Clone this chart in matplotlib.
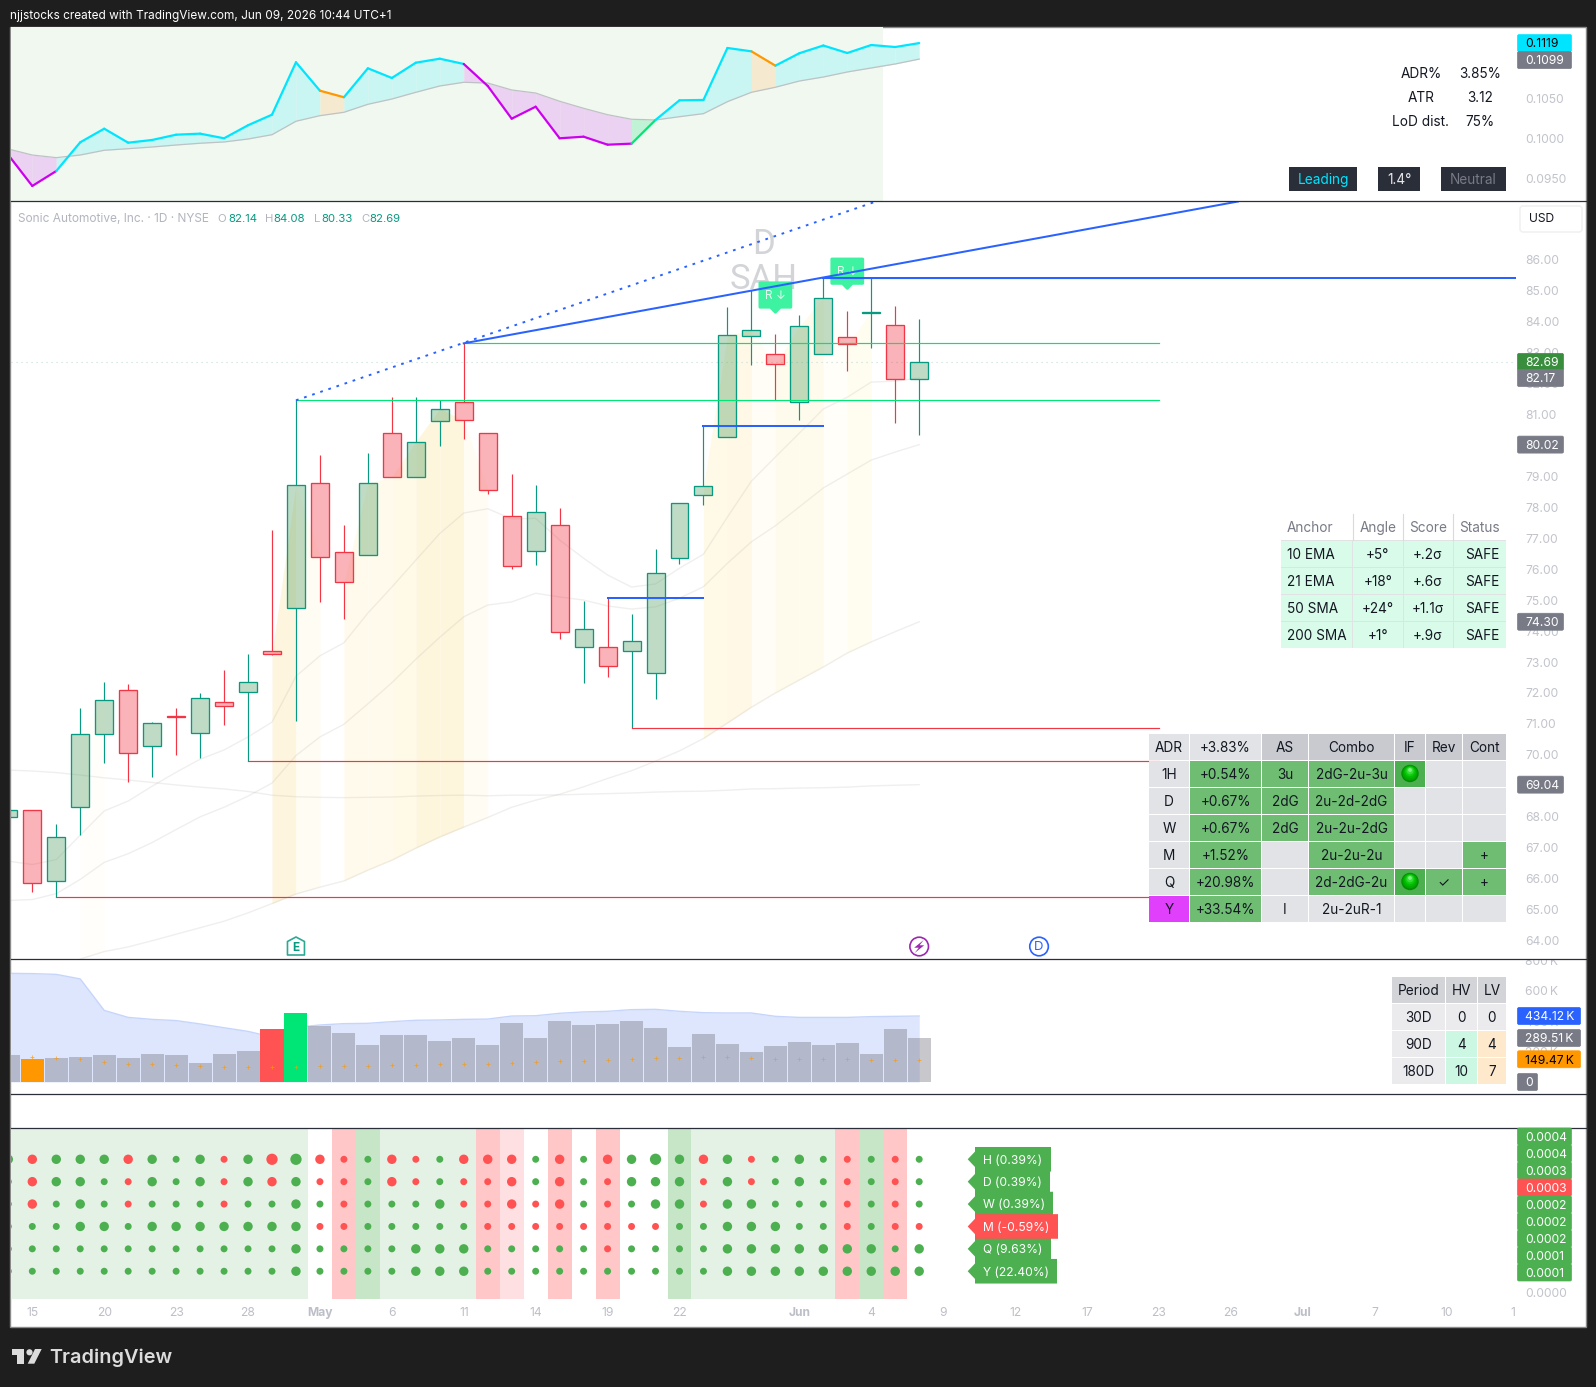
import matplotlib
matplotlib.use("Agg")
import matplotlib.pyplot as plt
from matplotlib.patches import Rectangle, Polygon, Circle, FancyBboxPatch

plt.rcParams["font.family"] = ["Inter", "DejaVu Sans"]

# ---- daily bars, first entry is the bar cut off at the left edge ----
bars = list(range(-1, 38))
opens = [67.98, 68.21, 65.92, 68.31, 70.69, 72.08, 70.30, 71.25, 70.72, 71.72, 72.02, 73.37, 74.73,
         78.77, 76.54, 76.44, 80.41, 78.98, 80.77, 81.41, 80.41, 77.73, 76.60, 77.41, 73.47, 73.50,
         73.37, 72.66, 76.35, 78.38, 80.25, 83.53, 82.96, 81.41, 82.93, 83.51, 84.27, 83.87, 82.14]
highs = [68.30, 68.21, 67.77, 71.51, 72.35, 72.28, 71.05, 71.51, 72.00, 72.74, 73.25, 77.25, 81.45,
         79.68, 77.42, 79.75, 81.55, 81.55, 81.45, 83.29, 80.41, 79.07, 78.71, 77.97, 74.97, 75.09,
         74.55, 76.65, 78.15, 80.63, 84.46, 85.01, 83.59, 84.20, 85.39, 84.33, 85.39, 84.49, 84.08]
lows = [67.90, 65.58, 65.40, 67.42, 69.75, 69.13, 69.30, 70.00, 69.91, 70.97, 69.80, 73.24, 71.10,
        74.95, 74.40, 76.44, 78.98, 78.98, 79.99, 80.20, 78.43, 76.01, 76.14, 73.75, 72.33, 72.52,
        70.86, 71.81, 76.18, 78.08, 80.25, 82.60, 81.46, 80.81, 82.93, 82.40, 83.15, 80.72, 80.33]
closes = [68.21, 65.88, 67.36, 70.69, 71.76, 70.05, 71.02, 71.23, 71.83, 71.57, 72.37, 73.27, 78.73,
          76.40, 75.57, 78.77, 78.98, 80.12, 81.18, 80.80, 78.57, 76.09, 77.83, 73.96, 74.05, 72.86,
          73.67, 75.89, 78.15, 78.67, 83.55, 83.71, 82.61, 83.84, 84.77, 83.26, 84.29, 82.13, 82.69]

# ---- moving averages ----
ema10 = [66.57, 66.46, 66.62, 67.41, 68.19, 68.51, 68.99, 69.44, 69.86, 70.16, 70.58, 71.06, 72.54,
         73.20, 73.62, 74.58, 75.42, 76.29, 77.15, 77.81, 77.95, 77.62, 77.64, 76.94, 76.35, 75.81,
         75.42, 75.52, 76.03, 76.48, 77.68, 78.84, 79.62, 80.39, 81.17, 81.55, 82.04, 82.07, 82.17]
ema21 = [65.30, 65.33, 65.52, 65.98, 66.53, 66.81, 67.17, 67.59, 68.00, 68.31, 68.67, 69.09, 69.98,
         70.58, 70.99, 71.65, 72.33, 73.09, 73.80, 74.46, 74.84, 74.94, 75.22, 75.10, 75.00, 74.81,
         74.71, 74.78, 75.06, 75.43, 76.19, 76.88, 77.40, 78.01, 78.62, 79.07, 79.52, 79.78, 80.02]
sma50_bars = list(range(2, 38))
sma50 = [63.41, 63.65, 63.80, 64.00, 64.21, 64.42, 64.63, 64.90, 65.20, 65.51, 65.73, 65.93, 66.28,
         66.60, 66.99, 67.35, 67.67, 67.98, 68.31, 68.54, 68.73, 68.97, 69.24, 69.49, 69.80, 70.13,
         70.53, 71.03, 71.54, 72.00, 72.42, 72.84, 73.29, 73.65, 73.98, 74.30]
sma200 = [69.51, 69.48, 69.43, 69.35, 69.26, 69.19, 69.11, 69.03, 68.96, 68.90, 68.82, 68.70, 68.65,
          68.63, 68.62, 68.63, 68.64, 68.67, 68.69, 68.70, 68.68, 68.70, 68.70, 68.71, 68.73, 68.75,
          68.77, 68.80, 68.82, 68.83, 68.86, 68.90, 68.91, 68.93, 68.94, 68.96, 69.00, 69.02, 69.04]

# ---- relative strength pane ----
rs_line = [.09791, .09404, .09591, .09950, .10120, .09945, .09979, .10045, .10058, .10000, .10163,
           .10295, .10950, .10595, .10513, .10875, .10754, .10945, .10995, .10929, .10654, .10245,
           .10395, .10000, .10020, .09920, .09933, .10229, .10475, .10479, .11129, .11087, .10908,
           .11063, .11160, .11066, .11166, .11141, .11190]
rs_mean = [.09866, .09791, .09758, .09791, .09850, .09870, .09891, .09916, .09938, .09954, .09991,
           .10045, .10213, .10283, .10325, .10425, .10491, .10575, .10654, .10700, .10691, .10604,
           .10566, .10463, .10375, .10295, .10238, .10229, .10270, .10308, .10458, .10575, .10638,
           .10716, .10766, .10829, .10879, .10929, .10990]
rs_state = list("PP" "CCCCCCCCCCC" "O" "CCCCC" "PPPPPPP" "G" "CCCC" "O" "CCCCCC")

# ---- volume pane, thousands of shares ----
volume = [177.6, 151, 158, 164, 178, 158, 184, 178, 125, 184, 204, 349, 454, 368, 322, 243, 309, 309,
          270, 289, 243, 388, 289, 401, 375, 382, 401, 355, 230, 316, 250, 197, 237, 263, 243, 257,
          184, 349, 289.51]
vol_avg = [715, 713, 708, 678, 471, 425, 412, 404, 382, 357, 333, 296, 360, 375, 384, 386, 397, 406,
           408, 412, 414, 434, 436, 452, 461, 465, 476, 478, 465, 456, 454, 454, 432, 425, 425, 425,
           430, 432, 434.12]
vol_marks = [162, 156, 151, 129, 116, 116, 110, 103, 96, 96, 96, 96, 103, 103, 103, 110, 110, 116,
             116, 116, 123, 129, 136, 136, 143, 149, 156, 156, 162, 162, 156, 149, 149, 149, 149,
             143, 143, 143]

# ---- breadth dots per row: sign is direction, magnitude is dot class ----
dot_rows = ["H", "D", "W", "M", "Q", "Y"]
dots_h = [2, -2, 2, 2, 2, -2, 2, 1, 2, -1, 2, -3, 3, -2, -1, 1, -2, -1, 1, -2, -2, -2,
          1, -2, 1, -2, 2, 3, 2, -2, 2, -1, 1, 2, 1, -1, 1, -1, 1]
dots_d = [1, -2, 2, 2, 1, -1, 2, 1, 2, -1, 2, -2, 2, -1, -1, 1, -2, -1, 1, -1, -1, -2,
          1, -2, 1, -1, 2, 2, 2, -1, 2, -1, 1, 2, 1, -1, 1, -1, 1]
dots_w = [1, -2, 1, 2, 1, -1, 1, 1, 1, -1, 1, 1, 2, 1, -1, 1, 1, 1, 2, -1, -1, -2,
          -1, -2, 1, -1, 1, 2, 2, -1, 2, 2, 1, 1, 1, -1, 1, -1, 1]
dots_m = [1, 1, 1, 2, 2, 1, 2, 2, 2, 2, 2, 2, 2, -1, -1, 1, 1, 1, 1, 1, -1, -1,
          -1, -1, -1, -1, -1, -1, 1, 1, 2, 2, 2, 1, 1, -1, 1, -1, -1]
dots_q = [1, 1, 1, 1, 1, 1, 1, 1, 1, 1, 1, 1, 2, 1, 1, 1, 1, 2, 2, 2, 1, 1,
          1, 1, 1, -1, 1, 1, 1, 1, 2, 2, 2, 2, 2, 2, 2, 1, 2]
dots_y = [1, 1, 1, 1, 1, 1, 1, 1, 1, 1, 1, 1, 2, 1, 1, 1, 1, 2, 2, 2, 1, 1,
          1, 1, 1, 1, 1, 1, 1, 1, 2, 2, 2, 2, 2, 2, 2, 2, 2]
dot_state = list("LLLLLLLLLLLLL" "WRGLLLLRPWRWRWWGLLLLLLRGRW")
row_tag_text = ["H (0.39%)", "D (0.39%)", "W (0.39%)", "M (-0.59%)", "Q (9.63%)", "Y (22.40%)"]

tick_bars = [0, 3, 6, 9, 12, 15, 18, 21, 24, 27, 32, 35, 38, 41, 44, 47, 50, 53, 56, 59, 61.75]
tick_labels = ["15", "20", "23", "28", "May", "6", "11", "14", "19", "22", "Jun", "4", "9", "12", "17",
               "23", "26", "Jul", "7", "10", "1"]

anchor_rows = [["10 EMA", "+5°", "+.2σ", "SAFE"], ["21 EMA", "+18°", "+.6σ", "SAFE"],
               ["50 SMA", "+24°", "+1.1σ", "SAFE"], ["200 SMA", "+1°", "+.9σ", "SAFE"]]
tf_rows = [["1H", "+0.54%", "3u", "2dG-2u-3u"], ["D", "+0.67%", "2dG", "2u-2d-2dG"],
           ["W", "+0.67%", "2dG", "2u-2u-2dG"], ["M", "+1.52%", "", "2u-2u-2u"],
           ["Q", "+20.98%", "", "2d-2dG-2u"], ["Y", "+33.54%", "I", "2u-2uR-1"]]
period_rows = [["30D", "0", "0"], ["90D", "4", "4"], ["180D", "10", "7"]]

# ---- canvas and panes, laid out in pixels ----
W, H = 1596, 1387
fig = plt.figure(figsize=(W / 100, H / 100), dpi=100, facecolor="#1e1e1e")
BAR_PX, BAR0_PX = 23.97, 32.3
LEFT, RIGHT = 10.5, 1516
xlim = ((LEFT - BAR0_PX) / BAR_PX, (RIGHT - BAR0_PX) / BAR_PX)


def pane(y0, y1, ylim):
    ax = fig.add_axes([LEFT / W, 1 - y1 / H, (RIGHT - LEFT) / W, (y1 - y0) / H], facecolor="none")
    ax.set_xlim(xlim)
    ax.set_ylim(ylim)
    for s in ax.spines.values():
        s.set_visible(False)
    ax.yaxis.tick_right()
    ax.tick_params(axis="y", length=0, pad=6.4, labelsize=8.7, labelcolor="#c2c4cc")
    ax.set_xticks([])
    return ax


back = fig.add_axes([0, 0, 1, 1], zorder=-5)
back.set_xlim(0, W)
back.set_ylim(H, 0)
back.axis("off")
back.add_patch(Rectangle((10, 27), 1576, 1300, fc="white", ec="#8a8a8a", lw=1))

ax_rs = pane(27.5, 201, (.09216, .11385))
ax_px = pane(201.5, 959, (63.41, 87.87))
ax_vol = pane(959.5, 1094, (-78.9, 805.9))
ax_dot = pane(1128.5, 1299, (6.24, -1.375))

ov = fig.add_axes([0, 0, 1, 1], zorder=10, facecolor="none")
ov.set_xlim(0, W)
ov.set_ylim(H, 0)
ov.axis("off")


def y_of(ax, value):
    return H - ax.transData.transform((0, value))[1]


def x_of(bar):
    return ax_px.transData.transform((bar, 0))[0]


# ---- relative strength pane ----
ax_rs.axvspan(xlim[0], 35.5, color="#f1f8ef", lw=0, zorder=0)
line_cols = {"P": "#cc00ee", "C": "#00e5ff", "O": "#ff9800", "G": "#00e676"}
fill_cols = {"P": "#ecd2f2", "C": "#c9f5f2", "O": "#f5ead0", "G": "#c0f3d5"}
ax_rs.plot(bars, rs_mean, color="#bfc2c4", lw=0.9, zorder=3)
for k, st in enumerate(rs_state):
    seg = [bars[k], bars[k + 1]]
    ax_rs.fill_between(seg, rs_line[k:k + 2], rs_mean[k:k + 2], color=fill_cols[st], lw=0, zorder=1)
    ax_rs.plot(seg, rs_line[k:k + 2], color=line_cols[st], lw=1.6, zorder=4, solid_capstyle="round")
ax_rs.set_yticks([.095, .100, .105])
ax_rs.set_yticklabels(["0.0950", "0.1000", "0.1050"])

# ---- price pane ----
ax_px.set_yticks(range(64, 87))
ax_px.set_yticklabels([f"{v}.00" for v in range(64, 87)])
ax_px.text(30.5, 86.49, "D", fontsize=25, color="#d3d4d7", ha="center", va="center", zorder=0.5,
           family="Roboto")
ax_px.text(30.5, 85.36, "SAH", fontsize=25, color="#d3d4d7", ha="center", va="center", zorder=0.5,
           family="Roboto")

# shaded stretches run from the close down to the 50-day average
band_cols = {2: "#fffefb", 10: "#fef5de", 11: "#fffcf4", 13: "#fffaeb", 14: "#fffaeb", 15: "#fff9e8",
             16: "#fef5dd", 17: "#fef5dd", 18: "#fffcf3", 28: "#fff9e8", 29: "#fff8e6", 30: "#fffdf5",
             31: "#fffbec", 32: "#fffbec", 33: "#fffef9", 34: "#fffcf0"}
for b, col in band_cols.items():
    k, m = bars.index(b), sma50_bars.index(b)
    ax_px.fill_between([b, b + 1], closes[k:k + 2], sma50[m:m + 2], color=col, lw=0, zorder=1)

for series, xs in ((ema10, bars), (ema21, bars), (sma50, sma50_bars), (sma200, bars)):
    ax_px.plot(xs, series, color="#a8a29c", alpha=0.17, lw=1.0, zorder=2)

GREEN, RED = "#089981", "#f23645"
for b, o, h, l, c in zip(bars, opens, highs, lows, closes):
    col = GREEN if c >= o else RED
    face = (76 / 255, 154 / 255, 90 / 255, .35) if c >= o else (242 / 255, 54 / 255, 69 / 255, .375)
    top, bot = max(o, c), min(o, c)
    ax_px.vlines(b, top, h, color=col, lw=0.85, zorder=3)
    ax_px.vlines(b, l, bot, color=col, lw=0.85, zorder=3)
    ax_px.bar(b, top - bot, bottom=bot, width=.75, facecolor=face, edgecolor=col, lw=0.95, zorder=3)

# reversal flags
for bar, tip in [(31, 84.30), (34, 85.07)]:
    hw, neck, h_tag = .64, .16, .78
    ax_px.add_patch(Polygon([(bar, tip), (bar - .2, tip + neck), (bar - hw, tip + neck), (bar - hw, tip + neck + h_tag),
                             (bar + hw, tip + neck + h_tag), (bar + hw, tip + neck), (bar + .2, tip + neck)],
                            closed=True, fc="#3df2a0", ec="#3df2a0", lw=2.2, joinstyle="round", zorder=3.5))
    ax_px.text(bar, tip + neck + h_tag / 2 - .03, "R ↓", fontsize=8.5, color="white", alpha=.85, ha="center",
               va="center", zorder=3.6)

# pivot levels and trend lines
ax_px.plot(xlim, [82.69, 82.69], color="#c3ddd7", lw=.8, ls=(0, (1, 3.5)), zorder=2.5)
for start, level in [(11, 81.45), (18, 83.29), (33, 85.39)]:
    ax_px.plot([start, 47], [level, level], color="#00e676", lw=.85, zorder=4)
for start, stop, level in [(33, xlim[1], 85.39), (28, 33, 80.63), (24, 28, 75.07)]:
    ax_px.plot([start, stop], [level, level], color="#2962ff", lw=1.45, zorder=4.2)
for start, level in [(9, 69.80), (25, 70.86), (1, 65.40)]:
    ax_px.plot([start, 47], [level, level], color=RED, lw=.85, zorder=4)
ax_px.plot([18, 50.3], [83.29, 87.87], color="#2962ff", lw=1.45, zorder=4.3)
ax_px.plot([11, 35.2], [81.45, 87.87], color="#2962ff", lw=1.4, ls=(0, (1.4, 3)), zorder=4.3)

# ---- volume pane ----
ax_vol.fill_between(bars, vol_avg, 0, color="#dde6fc", lw=0, zorder=1)
ax_vol.plot(bars, vol_avg, color="#c6d5fb", lw=1, zorder=1.5)
accent = {0: "#ff9800", 10: "#ff5252", 11: "#00e676"}
for b, v in zip(bars, volume):
    if b in accent:
        ax_vol.bar(b, v, width=.96, color=accent[b], lw=0, zorder=2)
    else:
        ax_vol.bar(b, v, width=.96, color="#757580", alpha=.4, lw=0, zorder=2)
ax_vol.plot(bars[1:], vol_marks, ls="none", marker="+", ms=3, mew=.6, color="#ff9800", alpha=.75, zorder=3)
ax_vol.set_yticks([200, 400, 600, 800])
ax_vol.set_yticklabels(["200\u2009K", "400\u2009K", "600\u2009K", "800\u2009K"])

# ---- breadth dots ----
state_cols = {"L": "#e4f2e5", "W": "white", "R": "#ffc7c7", "G": "#c7e6c8", "P": "#ffe0e2"}
for b, st in zip(bars, dot_state):
    ax_dot.axvspan(b - .5, b + .5, color=state_cols[st], lw=0, zorder=0)
for r, series in enumerate((dots_h, dots_d, dots_w, dots_m, dots_q, dots_y)):
    ax_dot.scatter(bars, [r] * len(bars), s=[{1: 25, 2: 46, 3: 66}[abs(v)] for v in series],
                   c=["#4caf50" if v > 0 else "#ff5252" for v in series], lw=0, zorder=2)
ax_dot.set_xticks(tick_bars)
ax_dot.set_xticklabels(tick_labels)
ax_dot.tick_params(axis="x", length=0, pad=5.5, labelsize=8.7, labelcolor="#bdbfc8")
for lab in ax_dot.get_xticklabels():
    if lab.get_text() in ("May", "Jun", "Jul"):
        lab.set_fontweight("bold")
ax_dot.set_yticks([])

# ---- overlay: separators, tags, tables, icons ----
ov.add_patch(Rectangle((1516, 950), 69, 9.5, fc="white", lw=0, zorder=0))
for y in (201, 959, 1094, 1128):
    ov.plot([10.5, 1585.5], [y, y], color="#2a2e39", lw=.9, zorder=1)

ov.text(10, 16, "njjstocks created with TradingView.com, Jun 09, 2026 10:44 UTC+1", fontsize=8.5, color="white",
        va="center")


def seq_text(x, y, s, col, size=8.2):
    ov.text(x, y, s, fontsize=size, color=col, va="center")


seq_text(18, 218.5, "Sonic Automotive, Inc. · 1D · NYSE", "#b2b5be", 8.55)
for xa, pre, xb, val in [(217, "O", 228, opens[-1]), (265, "H", 273.5, highs[-1]),
                         (314, "L", 321, lows[-1]), (361, "C", 369, closes[-1])]:
    seq_text(xa, 218.5, pre, "#b2b5be")
    seq_text(xb, 218.5, f"{val:.2f}", GREEN)


def tag(y, text, fc, tc="white", right=1564):
    ov.add_patch(FancyBboxPatch((1517.5, y - 8.5), right - 1518, 17, boxstyle="round,pad=0,rounding_size=1.5",
                                fc=fc, lw=0.5, ec=fc, zorder=3))
    ov.text(1525, y + 1.3, text, fontsize=8.7, color=tc, va="center", zorder=4)


tag(y_of(ax_rs, rs_line[-1]), "0.1119", "#00e5ff", "black", 1572)
tag(y_of(ax_rs, rs_mean[-1]) + 1, "0.1099", "#787b86", right=1572)
for value, col in [(closes[-1], "#388e3c"), (ema10[-1], "#787b86"), (ema21[-1], "#787b86"),
                   (sma50[-1], "#787b86"), (sma200[-1], "#787b86")]:
    tag(y_of(ax_px, value), f"{value:.2f}", col)
tag(y_of(ax_vol, vol_avg[-1]), "434.12\u2009K", "#2962ff", right=1581)
tag(y_of(ax_vol, volume[-1]), "289.51\u2009K", "#787b86", right=1581)
tag(y_of(ax_vol, 149.47), "149.47\u2009K", "#ff9800", "black", 1581)
tag(y_of(ax_vol, 0), "0", "#787b86", right=1538)
for k, (s, col) in enumerate(zip(["0.0004", "0.0004", "0.0003", "0.0003", "0.0002", "0.0002", "0.0002", "0.0001",
                                  "0.0001"], ["#4caf50"] * 3 + ["#ff5252"] + ["#4caf50"] * 5)):
    tag(1136.5 + 17 * k, s, col, right=1572)
ov.text(1525, 1294, "0.0000", fontsize=8.7, color="#c2c4cc", va="center")

# currency button
ov.add_patch(FancyBboxPatch((1520, 206), 62, 26, boxstyle="round,pad=0,rounding_size=3", fc="white", ec="#efefef", lw=1))
ov.text(1529, 219, "USD", fontsize=8.7, color="#131722", va="center")

# summary readouts
for y, name, val in [(73, "ADR%", "3.85%"), (97, "ATR", "3.12"), (121, "LoD dist.", "75%")]:
    ov.text(1421, y + 1, name, fontsize=9.8, color="#131722", ha="center", va="center")
    ov.text(1480, y + 1, val, fontsize=9.8, color="#131722", ha="center", va="center")
for x0, x1, s, col in [(1289, 1357, "Leading", "#00e5ff"), (1378, 1420, "1.4°", "#e8e8ea"), (1441, 1506, "Neutral", "#787b86")]:
    ov.add_patch(Rectangle((x0, 167), x1 - x0, 24, fc="#2a2e39", lw=0))
    ov.text((x0 + x1) / 2, 180, s, fontsize=9.8, color=col, ha="center", va="center")


def cell(x0, y0, x1, y1, fc, s="", col="#131722", ha="center", pad=0):
    if fc:
        ov.add_patch(Rectangle((x0, y0), x1 - x0, y1 - y0, fc=fc, lw=0, zorder=2))
    if s:
        x = {"center": (x0 + x1) / 2, "left": x0 + pad, "right": x1 - pad}[ha]
        ov.text(x, (y0 + y1) / 2 + 1.3, s, fontsize=9.8, color=col, ha=ha, va="center", zorder=3)


# anchor table
a_cols = [(1281, 1352), (1353, 1402.5), (1403.5, 1452.5), (1453.5, 1506)]
a_rows = [(540.7, 567.3), (568, 594), (595, 621), (622, 647.7)]
ov.add_patch(Rectangle((1281, 514), 225, 133.7, fc="#e0e2e3", lw=0, zorder=1))
ov.add_patch(Rectangle((1281, 514), 225, 25.5, fc="white", lw=0, zorder=1.5))
for x in (1352.5, 1403, 1453):
    ov.plot([x, x], [514, 540], color="#d9dadd", lw=.8, zorder=2)
for (x0, x1), s, ha, p in zip(a_cols, ["Anchor", "Angle", "Score", "Status"], ["left", "center", "center", "right"], [6, 0, 0, 6.5]):
    cell(x0, 514, x1, 540, None, s, "#787b86", ha, p)
for (y0, y1), row in zip(a_rows, anchor_rows):
    for (x0, x1), s, ha, p in zip(a_cols, row, ["left", "center", "center", "right"], [6, 0, 0, 6.5]):
        cell(x0, y0, x1, y1, "#d9fbe9", s, "#131722", ha, p)

# timeframe table
t_cols = [(1149, 1189), (1190, 1261), (1262, 1308), (1309, 1394), (1395, 1425), (1426, 1462), (1463, 1506)]
t_rows = [(734, 760), (761, 787), (788, 814), (815, 841), (842, 868), (869, 895), (896, 922)]
LG, DG, MID, GR = "#e1e3e6", "#c8cad0", "#6fbd72", "#4caf50"
for (x0, x1), s, fc in zip(t_cols, ["ADR", "+3.83%", "AS", "Combo", "IF", "Rev", "Cont"], [LG, LG, DG, DG, DG, DG, DG]):
    cell(x0, 734, x1, 760, fc, s)
if_on, rev_on, cont_on = {"1H", "Q"}, {"Q"}, {"M", "Q"}
for (y0, y1), row in zip(t_rows[1:], tf_rows):
    name = row[0]
    cell(t_cols[0][0], y0, t_cols[0][1], y1, "#e040fb" if name == "Y" else LG, name)
    cell(t_cols[1][0], y0, t_cols[1][1], y1, MID, row[1])
    cell(t_cols[2][0], y0, t_cols[2][1], y1, MID if row[2] and name != "Y" else LG, row[2])
    cell(t_cols[3][0], y0, t_cols[3][1], y1, LG if name == "Y" else MID, row[3])
    cell(t_cols[4][0], y0, t_cols[4][1], y1, GR if name in if_on else LG)
    cell(t_cols[5][0], y0, t_cols[5][1], y1, MID if name in rev_on else LG, "✓" if name in rev_on else "")
    cell(t_cols[6][0], y0, t_cols[6][1], y1, MID if name in cont_on else LG, "+" if name in cont_on else "")
    if name in if_on:
        cx, cy = sum(t_cols[4]) / 2, (y0 + y1) / 2 - .5
        for f, shade in zip((1, .86, .7, .55, .4, .22), ("#008f00", "#00a800", "#00bb00", "#10cc10", "#38dc38", "#80f080")):
            ov.add_patch(Circle((cx, cy - (1 - f) * 4.5), 8.7 * f, fc=shade, lw=0, zorder=4))

# period table
p_cols = [(1392, 1445), (1446, 1477.3), (1478, 1506)]
p_rows = [(977, 1003), (1004, 1030), (1031, 1057), (1058, 1084)]
for (x0, x1), s in zip(p_cols, ["Period", "HV", "LV"]):
    cell(x0, 977, x1, 1003, "#d3d4d8", s)
for (y0, y1), row in zip(p_rows[1:], period_rows):
    hv_lit = row[1] != "0"
    cell(p_cols[0][0], y0, p_cols[0][1], y1, "#ebebed", row[0])
    cell(p_cols[1][0], y0, p_cols[1][1], y1, "#ccf7e3" if hv_lit else "#ebebed", row[1])
    cell(p_cols[2][0], y0, p_cols[2][1], y1, "#ffe9cd" if hv_lit else "#ebebed", row[2])

# row flags beside the dots
flag_right = [1051, 1050, 1053, 1058, 1051, 1057]
for r in (0, 1, 2, 4, 5, 3):
    y = y_of(ax_dot, r)
    col = "#ff5252" if row_tag_text[r].startswith("M") else "#4caf50"
    ov.add_patch(Polygon([(975, y - 12.3), (flag_right[r], y - 12.3), (flag_right[r], y + 12.3), (975, y + 12.3),
                          (975, y + 7.7), (967.7, y), (975, y - 7.7)], closed=True, fc=col, lw=0, zorder=2))
    ov.text(983, y + 1.4, row_tag_text[r], fontsize=8.7, color="white", va="center", zorder=3)

# event markers under the price pane
ecx, icy = x_of(11), 946.5
ov.add_patch(Polygon([(ecx - 8.5, icy - 5), (ecx, icy - 9.5), (ecx + 8.5, icy - 5), (ecx + 8.5, icy + 8.5), (ecx - 8.5, icy + 8.5)],
                     closed=True, fc="white", ec=GREEN, lw=1.2, joinstyle="round", alpha=.85))
ov.text(ecx, icy + 1.2, "E", fontsize=8.5, color=GREEN, ha="center", va="center", fontweight="bold")
lcx = x_of(37)
ov.add_patch(Circle((lcx, icy), 9.3, fc="white", ec="#9c27b0", lw=1.2))
ov.add_patch(Polygon([(lcx + 4.5, icy - 6.5), (lcx - 5, icy + 1.2), (lcx - .4, icy + 1.2), (lcx - 4.5, icy + 6.5),
                      (lcx + 5, icy - 1.2), (lcx + .4, icy - 1.2)], closed=True, fc="#9c27b0", lw=0))
dcx = x_of(42)
ov.add_patch(Circle((dcx, icy), 9.3, fc="white", ec="#2962ff", lw=1.2))
ov.text(dcx, icy + 1, "D", fontsize=9.5, color="#2962ff", ha="center", va="center")

# wordmark
LOGO = "#dcdcdc"
ov.add_patch(Rectangle((12.3, 1349), 11.7, 6, fc=LOGO, lw=0))
ov.add_patch(Rectangle((17.3, 1349), 6.7, 14.7, fc=LOGO, lw=0))
ov.add_patch(Circle((29.5, 1352.3), 3.1, fc=LOGO, lw=0))
ov.add_patch(Polygon([(27.7, 1363.7), (34.3, 1363.7), (41.7, 1349), (35, 1349)], closed=True, fc=LOGO, lw=0))
ov.text(49, 1358, "TradingView", fontsize=14.3, color=LOGO, va="center", fontweight="semibold")

fig.savefig("out.png", dpi=100, facecolor=fig.get_facecolor())
